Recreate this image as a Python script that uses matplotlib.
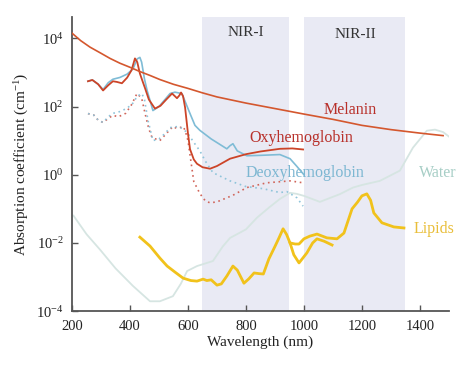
import matplotlib
matplotlib.use("Agg")
import matplotlib.pyplot as plt
from matplotlib.ticker import FixedLocator, NullLocator

plt.rcParams["font.family"] = ["Liberation Serif", "DejaVu Serif"]
plt.rcParams["mathtext.fontset"] = "custom"
plt.rcParams["mathtext.rm"] = "Liberation Serif"
plt.rcParams["mathtext.it"] = "Liberation Serif:italic"

# ---- data (wavelength in nm, absorption coefficient in cm^-1) ----
mel_wl = [200, 230, 262, 300, 331, 365, 400, 435, 469, 503, 550, 600, 650, 700, 800, 900,
          1000, 1100, 1200, 1300, 1400, 1480]
mel_mu = [1.41e4, 8.5e3, 5.5e3, 3.63e3, 2.57e3, 1.86e3, 1.41e3, 1.05e3, 813, 617, 447, 339,
          251, 191, 126, 87, 60, 42, 28, 21, 16.6, 14]

oxy_wl = [255, 270, 290, 307, 325, 341, 355, 372, 390, 405, 417, 425, 434, 445, 452, 465,
          486, 505, 525, 545, 555, 562, 570, 576, 583, 590, 600, 607, 620, 631, 650, 676,
          700, 745, 800, 850, 917, 960, 997]
oxy_mu = [550, 600, 450, 295, 420, 550, 525, 480, 700, 1150, 2570, 2000, 930, 500, 340, 160,
          87, 105, 160, 240, 200, 175, 210, 257, 200, 93, 16, 5.6, 2.8, 2.1, 1.66, 1.5,
          1.8, 2.95, 4.0, 4.8, 5.75, 5.9, 5.5]

deoxy_wl = [255, 270, 290, 307, 325, 341, 365, 390, 410, 425, 434, 440, 450, 459, 479, 500,
            520, 538, 555, 579, 590, 607, 624, 641, 680, 734, 745, 755, 770, 803, 850, 917,
            952, 975, 1000]
deoxy_mu = [550, 600, 450, 316, 500, 630, 710, 890, 1260, 2500, 2750, 2000, 630, 295, 76, 100,
            158, 240, 263, 240, 141, 62, 28, 20, 11.2, 5.75, 7.1, 8.1, 5.0, 3.6, 3.7, 3.9,
            2.95, 1.78, 1.0]

oxy_d_wl = [255, 275, 290, 307, 325, 341, 360, 385, 405, 424, 440, 452, 465, 476, 503, 525,
            548, 560, 572, 583, 590, 600, 610, 620, 641, 660, 676, 700, 755, 803, 872, 952, 997]
oxy_d_mu = [62, 56, 40, 34, 45, 55, 50, 63, 112, 240, 178, 62, 22, 12.3, 10, 16,
            26, 23, 24, 26, 20, 10, 2.5, 0.63, 0.28, 0.17, 0.15, 0.16, 0.25, 0.42, 0.58, 0.66, 0.58]

deoxy_d_wl = [255, 275, 290, 307, 325, 341, 365, 390, 410, 425, 441, 450, 462, 479, 500, 520,
              538, 566, 583, 600, 620, 641, 660, 686, 745, 800, 859, 917, 941, 976, 997]
deoxy_d_mu = [62, 56, 40, 34, 50, 63, 71, 89, 126, 200, 240, 158, 39, 10, 11.2, 16,
              24, 26, 22, 16, 8.9, 5.0, 2.5, 1.15, 0.66, 0.45, 0.39, 0.30, 0.32, 0.21, 0.12]

water_wl = [205, 250, 297, 350, 410, 469, 503, 548, 575, 597, 631, 686, 720, 745, 800, 838,
            880, 917, 952, 975, 1000, 1055, 1124, 1169, 1200, 1262, 1331, 1376, 1424, 1452,
            1480, 1500]
water_mu = [6.3e-2, 1.8e-2, 6.3e-3, 1.8e-3, 5.5e-4, 1.95e-4, 1.95e-4, 2.75e-4, 6.3e-4, 1.5e-3,
            2.1e-3, 2.95e-3, 7.9e-3, 1.4e-2, 2.5e-2, 5.5e-2, 0.11, 0.195, 0.295, 0.275, 0.24,
            0.16, 0.27, 0.42, 0.5, 0.66, 1.32, 6.2, 19.5, 21, 17.8, 13.2]

lip_wl = [434, 469, 503, 528, 555, 583, 610, 631, 645, 652, 665, 680, 700, 715, 734, 755,
          770, 793, 810, 828, 845, 860, 879, 900, 914, 928, 940, 952, 970, 983, 1000, 1020,
          1045, 1079, 1114, 1138, 1166, 1185, 1200, 1217, 1230, 1241, 1269, 1310, 1345]
lip_mu = [1.48e-2, 8.1e-3, 3.6e-3, 2.1e-3, 1.4e-3, 9.3e-4, 7.9e-4, 7.6e-4, 8.3e-4, 8.7e-4,
          7.9e-4, 8.3e-4, 5.8e-4, 6.3e-4, 1.07e-3, 2.1e-3, 1.6e-3, 6.6e-4, 8.9e-4, 1.32e-3,
          1.26e-3, 1.23e-3, 3.4e-3, 7.9e-3, 1.41e-2, 2.6e-2, 1.78e-2, 1.0e-2, 9.3e-3, 9.3e-3,
          1.32e-2, 1.58e-2, 1.82e-2, 1.41e-2, 1.32e-2, 1.95e-2, 0.1, 0.158, 0.24, 0.275, 0.178,
          7.6e-2, 3.9e-2, 2.95e-2, 2.75e-2]

lip2_wl = [952, 965, 983, 995, 1010, 1030, 1045, 1070, 1097]
lip2_mu = [1.0e-2, 4.5e-3, 2.6e-3, 3.5e-3, 5.1e-3, 1.0e-2, 1.32e-2, 1.12e-2, 8.7e-3]

bands = [(650, 950, "NIR-I"), (1000, 1350, "NIR-II")]

C_MEL = "#D4572E"
C_OXY = "#CC4428"
C_DEOXY = "#7FBCD6"
C_WATER = "#D6E5E2"
C_LIP = "#F1C21B"

fig = plt.figure(figsize=(4.74, 3.70), dpi=100)
ax = fig.add_axes([0.152, 0.159, 0.795, 0.795])

for x0, x1, name in bands:
    ax.axvspan(x0, x1, color="#E9EAF4", lw=0, zorder=0)

ax.plot(water_wl, water_mu, color=C_WATER, lw=1.3, zorder=2)
ax.plot(oxy_d_wl, oxy_d_mu, color="#D0655A", lw=1.2, ls=(0, (1, 2.2)), zorder=2)
ax.plot(deoxy_d_wl, deoxy_d_mu, color="#8FC4DA", lw=1.2, ls=(0, (1, 2.2)), zorder=2)
ax.plot(deoxy_wl, deoxy_mu, color=C_DEOXY, lw=1.2, zorder=3)
ax.plot(oxy_wl, oxy_mu, color=C_OXY, lw=1.3, zorder=4)
ax.plot(mel_wl, mel_mu, color=C_MEL, lw=1.2, zorder=4)
ax.plot(lip_wl, lip_mu, color=C_LIP, lw=2.0, zorder=5)
ax.plot(lip2_wl, lip2_mu, color=C_LIP, lw=2.0, zorder=5)

ax.set_yscale("log")
ax.set_xlim(200, 1500)
ax.set_ylim(1e-4, 4.2e4)
ax.xaxis.set_major_locator(FixedLocator([200, 400, 600, 800, 1000, 1200, 1400]))
ax.yaxis.set_major_locator(FixedLocator([1e-4, 1e-2, 1e0, 1e2, 1e4]))
ax.yaxis.set_minor_locator(NullLocator())

for s in ["top", "right"]:
    ax.spines[s].set_visible(False)
for s in ["left", "bottom"]:
    ax.spines[s].set_color("#555555")
    ax.spines[s].set_linewidth(1.3)
ax.tick_params(direction="in", length=4, width=1.0, color="#555555",
               labelsize=10.5, labelcolor="#222222", pad=6)

ax.set_xlabel("Wavelength (nm)", fontsize=11, color="#222222", labelpad=2)
ax.set_ylabel("Absorption coefficient (cm$^{-1}$)", fontsize=11, color="#222222", labelpad=4)

ax.text(800, 1.5e4, "NIR-I", ha="center", va="center", fontsize=11, color="#333333")
ax.text(1176, 1.25e4, "NIR-II", ha="center", va="center", fontsize=11, color="#333333")
ax.text(1159, 81, "Melanin", ha="center", va="center", fontsize=11.5, color="#B8302A")
ax.text(990, 12.3, "Oxyhemoglobin", ha="center", va="center", fontsize=11.5, color="#B8302A")
ax.text(1005, 1.15, "Deoxyhemoglobin", ha="center", va="center", fontsize=11.5, color="#7DB7D2")
ax.text(1462, 1.15, "Water", ha="center", va="center", fontsize=11.5, color="#A7CEC6")
ax.text(1450, 2.6e-2, "Lipids", ha="center", va="center", fontsize=11.5, color="#E9BE3A")

fig.savefig("out.png", dpi=100, facecolor="white")
